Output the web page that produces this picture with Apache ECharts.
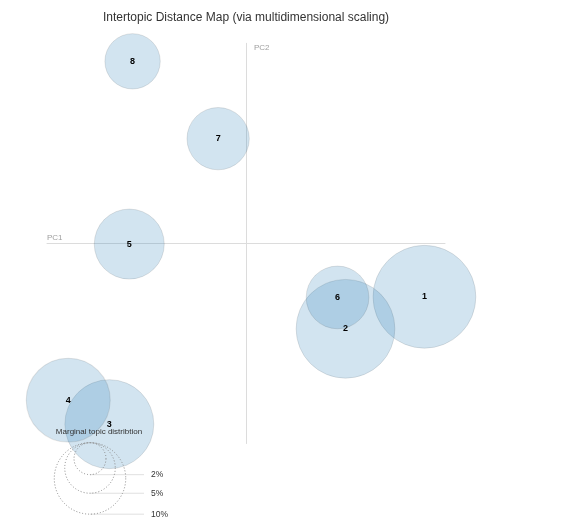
<!DOCTYPE html>
<html>
<head>
<meta charset="utf-8">
<script src="https://cdn.jsdelivr.net/npm/echarts@6/dist/echarts.min.js"></script>
<style>html,body{margin:0;padding:0;background:#fff}#c{width:566px;height:525px}</style>
</head>
<body>
<div id="c"></div>
<script>
// Topic data
var topics = ['1', '2', '3', '4', '5', '6', '7', '8'];
var pc1 = [0.269, 0.150, -0.206, -0.268, -0.176, 0.138, -0.042, -0.171];
var pc2 = [-0.080, -0.128, -0.271, -0.235, -0.001, -0.081, 0.157, 0.273];
var freqPct = [20.7, 19.1, 15.5, 13.8, 9.6, 7.7, 7.6, 6.0];
var legendPcts = [2, 5, 10];
var legendLabels = ['2%', '5%', '10%'];

var RK = 11.3; // px radius per sqrt(percent)
function radius(p) { return RK * Math.sqrt(p); }

var FONT = 'Liberation Sans, Arial, Helvetica, sans-serif';
var chart = echarts.init(document.getElementById('c'));

var data = topics.map(function (t, i) {
  return { name: t, value: [pc1[i], pc2[i], freqPct[i]] };
});

// Legend (marginal topic distribution) built from the same radius scale
var legCx = 90, legTop = 442.7, lineEnd = 144, labelX = 151;
var graphics = [{
  type: 'text', z: 100,
  x: 99, y: 432,
  style: { text: 'Marginal topic distribtion', fontSize: 8, fontFamily: FONT, fill: '#333', align: 'center', verticalAlign: 'middle' }
}];
legendPcts.forEach(function (p, i) {
  var r = radius(p);
  graphics.push({
    type: 'circle', z: 100, silent: true,
    shape: { cx: legCx, cy: legTop + r, r: r },
    style: { fill: 'none', stroke: '#8a8a8a', lineWidth: 1, lineDash: [1, 2] }
  });
  graphics.push({
    type: 'line', z: 99, silent: true,
    shape: { x1: legCx, y1: legTop + 2 * r, x2: lineEnd, y2: legTop + 2 * r },
    style: { stroke: '#e0e0e0', lineWidth: 1 }
  });
  graphics.push({
    type: 'text', z: 100,
    x: labelX, y: legTop + 2 * r,
    style: { text: legendLabels[i], fontSize: 8.5, fontFamily: FONT, fill: '#333', align: 'left', verticalAlign: 'middle' }
  });
});

chart.setOption({
  animation: false,
  backgroundColor: '#fff',
  title: {
    text: 'Intertopic Distance Map (via multidimensional scaling)',
    left: 103, top: 12, padding: 0,
    textStyle: { fontSize: 12, fontWeight: 'normal', color: '#333', fontFamily: FONT }
  },
  grid: { left: 47, right: 121, top: 43.3, bottom: 81.5 },
  xAxis: {
    type: 'value', min: -0.3, max: 0.3,
    name: 'PC1', nameLocation: 'start', nameGap: 0,
    nameTextStyle: { align: 'left', verticalAlign: 'bottom', color: '#a0a0a0', fontSize: 8, fontFamily: FONT, padding: [0, 0, 2, 0] },
    axisLine: { show: true, onZero: true, lineStyle: { color: '#dcdcdc', width: 1 } },
    axisTick: { show: false }, axisLabel: { show: false }, splitLine: { show: false }
  },
  yAxis: {
    type: 'value', min: -0.3, max: 0.3,
    name: 'PC2', nameLocation: 'end', nameGap: 0,
    nameTextStyle: { align: 'left', verticalAlign: 'top', color: '#a0a0a0', fontSize: 8, fontFamily: FONT, padding: [0, 0, 0, 8] },
    axisLine: { show: true, onZero: true, lineStyle: { color: '#dcdcdc', width: 1 } },
    axisTick: { show: false }, axisLabel: { show: false }, splitLine: { show: false }
  },
  series: [{
    type: 'scatter',
    data: data,
    symbol: 'circle',
    symbolSize: function (v) { return 2 * radius(v[2]); },
    itemStyle: { color: 'rgba(31,119,180,0.2)', borderColor: 'rgba(0,0,0,0.1)', borderWidth: 1, opacity: 1 },
    label: {
      show: true, position: 'inside', formatter: '{b}',
      fontSize: 9, fontWeight: 'bold', color: '#000', fontFamily: FONT
    },
    emphasis: { disabled: true }
  }],
  graphic: graphics
});
</script>
</body>
</html>
